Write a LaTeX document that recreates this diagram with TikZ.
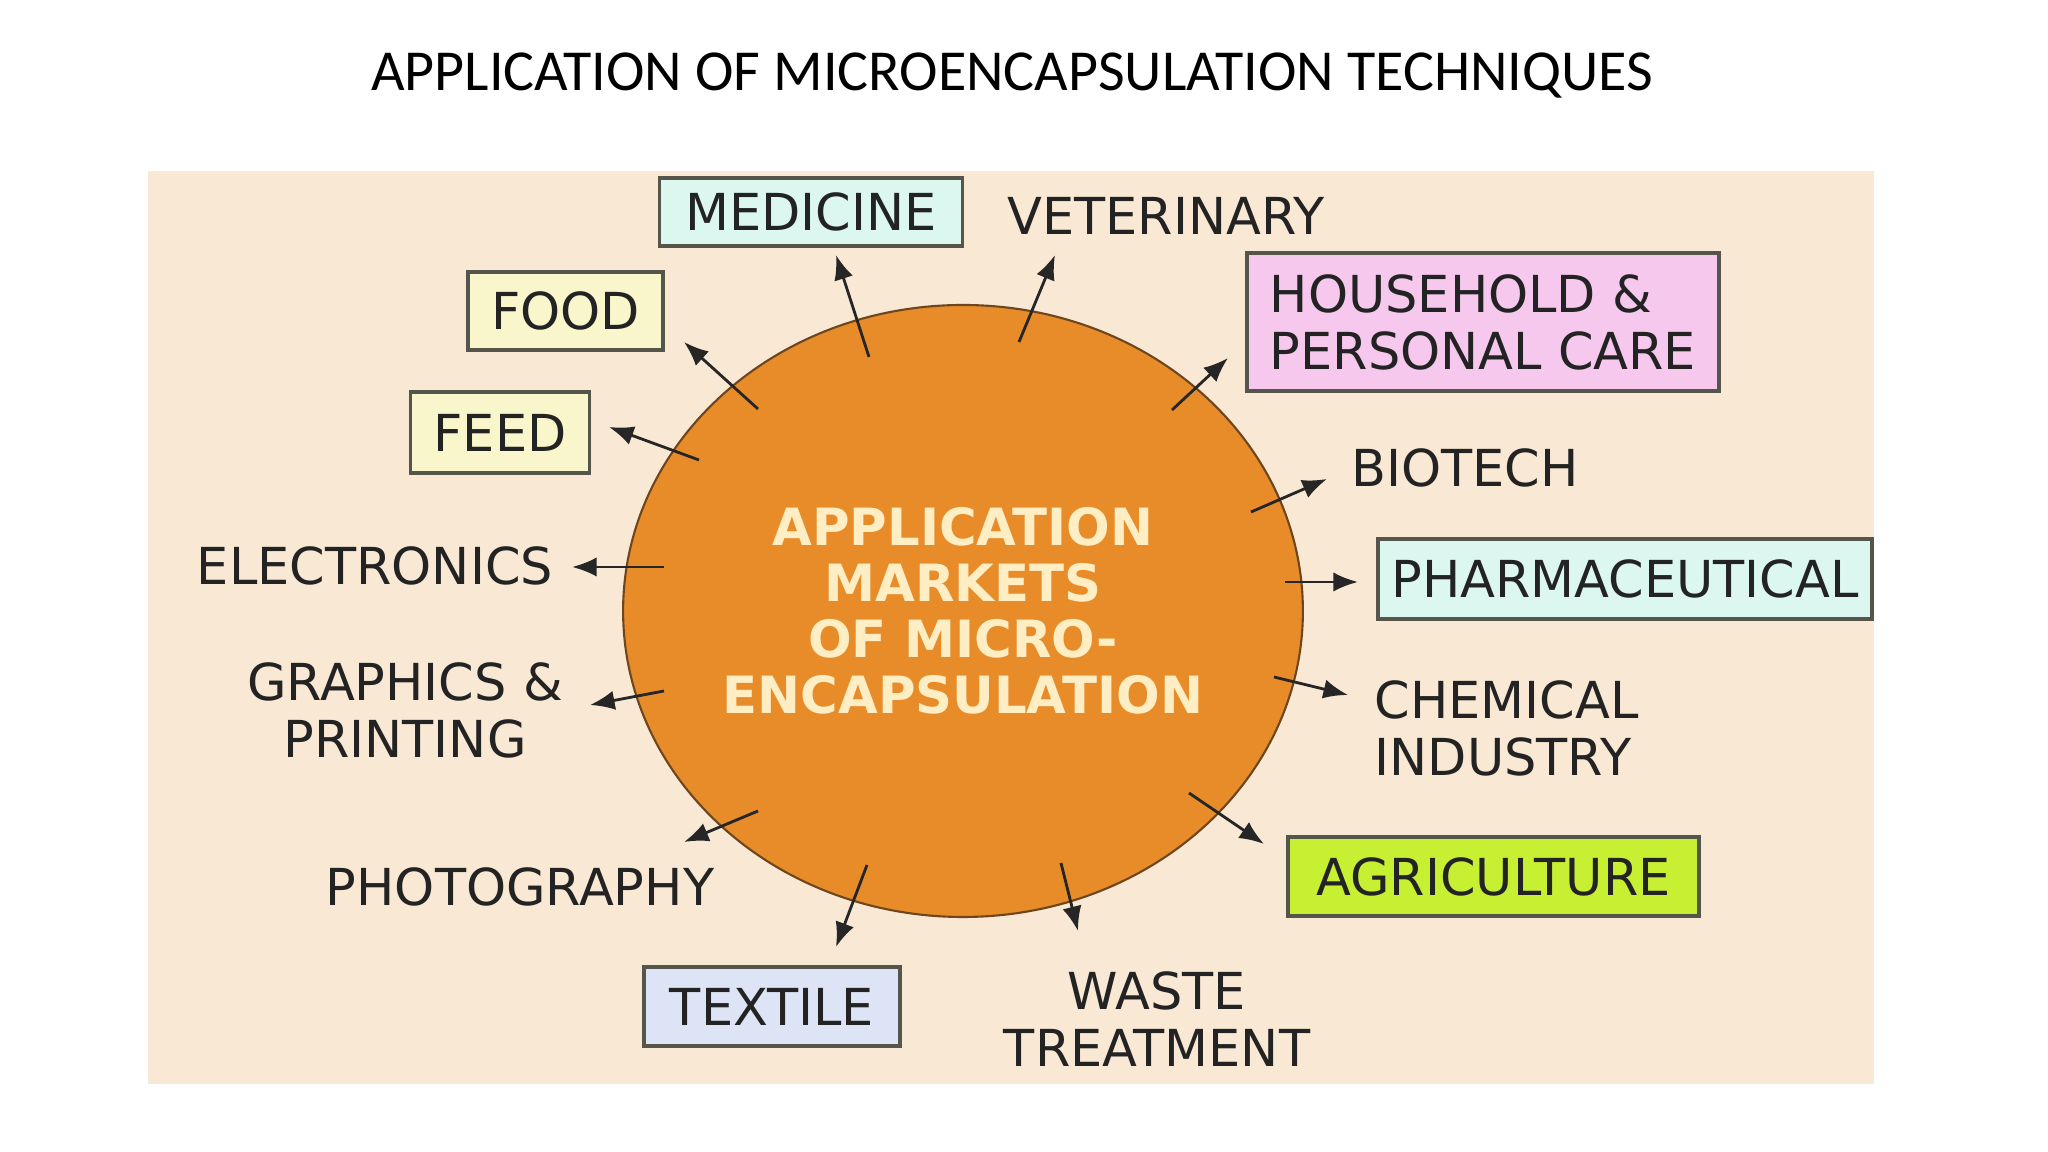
\documentclass[tikz,border=0pt]{standalone}
\usepackage{fontspec}
\usepackage{xcolor}
\usepackage{tikz}
\usetikzlibrary{shapes.geometric,arrows.meta,positioning,calc}
\newfontfamily\titlefont{Carlito}
\newfontfamily\labelfont{DejaVu Sans}
\definecolor{panelbg}{RGB}{248,232,212}
\definecolor{hubfill}{RGB}{232,140,42}
\definecolor{hubline}{RGB}{110,70,30}
\definecolor{hubtext}{RGB}{255,238,195}
\definecolor{labeltext}{RGB}{35,35,35}
\definecolor{boxline}{RGB}{85,85,75}
\definecolor{mintbox}{RGB}{220,246,240}
\definecolor{pinkbox}{RGB}{246,200,238}
\definecolor{yellowbox}{RGB}{250,246,204}
\definecolor{limebox}{RGB}{200,240,50}
\definecolor{bluebox}{RGB}{220,228,246}

\begin{document}
\begin{tikzpicture}[
    market/.style={rectangle, draw=boxline, line width=0.9pt, inner sep=0pt, font=\labelfont\fontsize{14.5}{16.2}\selectfont, text=labeltext, align=center},
    plain/.style={inner sep=0pt, font=\labelfont\fontsize{14.5}{16.2}\selectfont, text=labeltext, align=center},
    arrow/.style={-{Latex[length=7pt,width=5.5pt]}, line width=0.8pt, color=black!85}
]
\useasboundingbox (0,0) rectangle (20.48,11.52);
\fill[white] (0,0) rectangle (20.48,11.52);

\node[font=\titlefont\fontsize{16.5}{20}\selectfont] (title) at (10.12,10.76) {APPLICATION OF MICROENCAPSULATION TECHNIQUES};

\fill[panelbg] (1.48,0.68) rectangle (18.74,9.81);

\node[ellipse, fill=hubfill, draw=hubline, line width=0.6pt, minimum width=6.78cm, minimum height=6.12cm, inner sep=0pt,
      font=\labelfont\bfseries\fontsize{14.6}{15.9}\selectfont, text=hubtext, align=center] (hub) at (9.63,5.41)
      {APPLICATION\\MARKETS\\OF MICRO-\\ENCAPSULATION};

\node[market, fill=mintbox, minimum width=3.03cm, minimum height=0.68cm] (medicine) at (8.11,9.40) {MEDICINE};
\node[plain] (veterinary) at (11.66,9.36) {VETERINARY};
\node[market, fill=pinkbox, minimum width=4.72cm, minimum height=1.38cm, align=left] (household) at (14.83,8.30) {HOUSEHOLD \&\\PERSONAL CARE};
\node[market, fill=yellowbox, minimum width=1.95cm, minimum height=0.78cm] (food) at (5.655,8.41) {FOOD};
\node[market, fill=yellowbox, minimum width=1.79cm, minimum height=0.81cm] (feed) at (5.00,7.195) {FEED};
\node[plain] (biotech) at (14.65,6.84) {BIOTECH};
\node[plain] (electronics) at (3.75,5.86) {ELECTRONICS};
\node[market, fill=mintbox, minimum width=4.94cm, minimum height=0.80cm] (pharma) at (16.25,5.73) {PHARMACEUTICAL};
\node[plain] (graphics) at (4.05,4.415) {GRAPHICS \&\\PRINTING};
\node[plain, align=left, anchor=west] (chemical) at (13.74,4.24) {CHEMICAL\\INDUSTRY};
\node[plain] (photography) at (5.20,2.65) {PHOTOGRAPHY};
\node[market, fill=limebox, minimum width=4.11cm, minimum height=0.79cm] (agriculture) at (14.935,2.755) {AGRICULTURE};
\node[market, fill=bluebox, minimum width=2.56cm, minimum height=0.79cm] (textile) at (7.72,1.455) {TEXTILE};
\node[plain] (waste) at (11.57,1.325) {WASTE\\TREATMENT};

% arrow tails inside the hub, heads towards the markets
\coordinate (medA) at (8.69,7.95);   \coordinate (medB) at (8.36,8.97);
\coordinate (vetA) at (10.19,8.10);  \coordinate (vetB) at (10.55,8.97);
\coordinate (fooA) at (7.58,7.43);   \coordinate (fooB) at (6.84,8.10);
\coordinate (houA) at (11.72,7.42);  \coordinate (houB) at (12.28,7.94);
\coordinate (feeA) at (6.99,6.92);   \coordinate (feeB) at (6.09,7.25);
\coordinate (bioA) at (12.51,6.40);  \coordinate (bioB) at (13.27,6.73);
\coordinate (eleA) at (6.64,5.85);   \coordinate (eleB) at (5.72,5.85);
\coordinate (phaA) at (12.85,5.70);  \coordinate (phaB) at (13.58,5.70);
\coordinate (graA) at (6.64,4.61);   \coordinate (graB) at (5.90,4.47);
\coordinate (cheA) at (12.74,4.75);  \coordinate (cheB) at (13.48,4.57);
\coordinate (phoA) at (7.58,3.41);   \coordinate (phoB) at (6.84,3.10);
\coordinate (agrA) at (11.89,3.59);  \coordinate (agrB) at (12.64,3.08);
\coordinate (texA) at (8.67,2.87);   \coordinate (texB) at (8.36,2.05);
\coordinate (wasA) at (10.61,2.89);  \coordinate (wasB) at (10.78,2.21);

\draw[arrow] (medA) -- (medB);
\draw[arrow] (vetA) -- (vetB);
\draw[arrow] (fooA) -- (fooB);
\draw[arrow] (houA) -- (houB);
\draw[arrow] (feeA) -- (feeB);
\draw[arrow] (bioA) -- (bioB);
\draw[arrow] (eleA) -- (eleB);
\draw[arrow] (phaA) -- (phaB);
\draw[arrow] (graA) -- (graB);
\draw[arrow] (cheA) -- (cheB);
\draw[arrow] (phoA) -- (phoB);
\draw[arrow] (agrA) -- (agrB);
\draw[arrow] (texA) -- (texB);
\draw[arrow] (wasA) -- (wasB);
\end{tikzpicture}
\end{document}
